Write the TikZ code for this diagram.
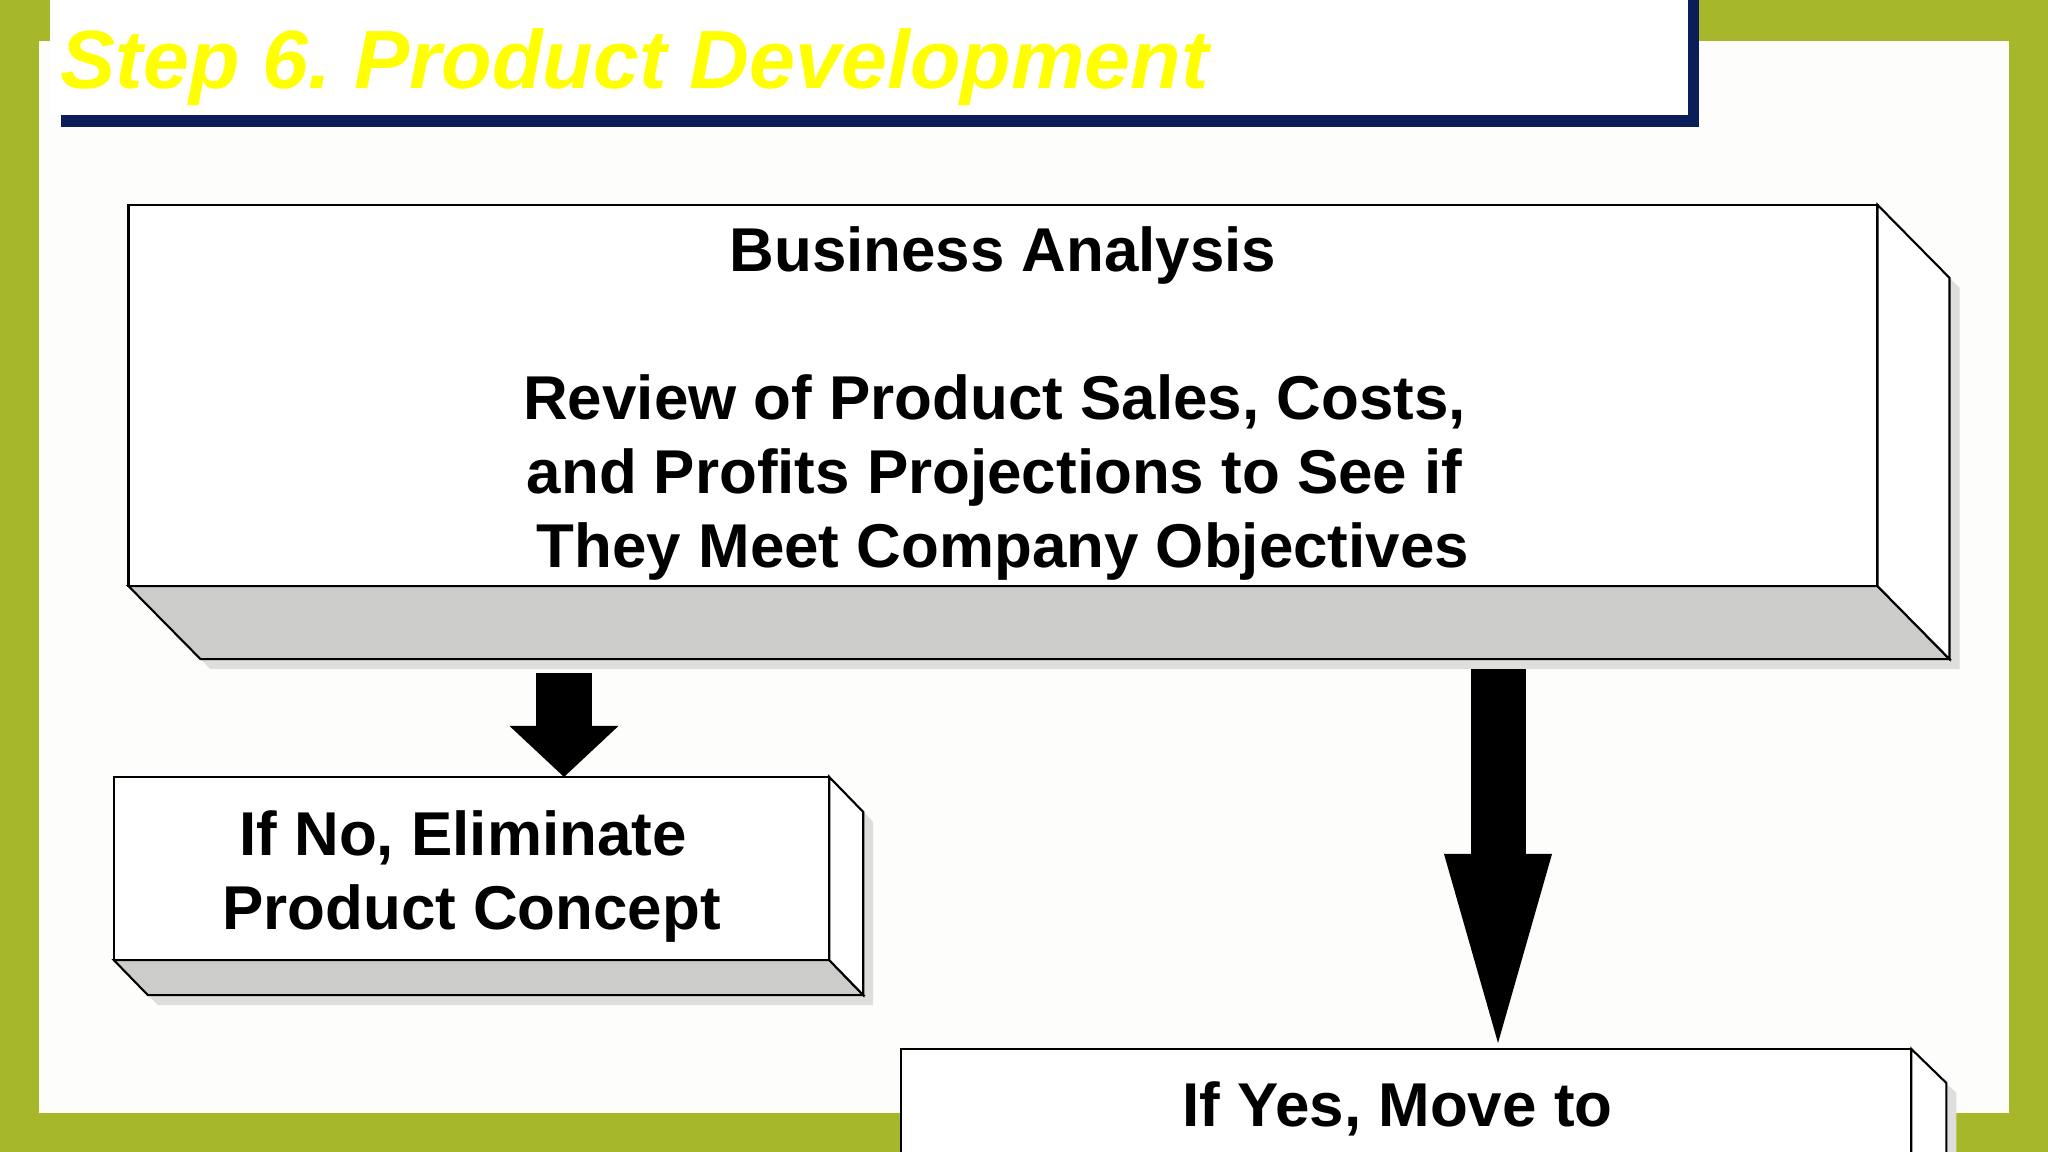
\documentclass[tikz,border=0pt]{standalone}
\usepackage{fontspec}
\setmainfont{Liberation Sans}
\usetikzlibrary{arrows.meta,backgrounds,calc}

\definecolor{framegreen}{RGB}{167,183,42}
\definecolor{titlenavy}{RGB}{12,30,90}
\definecolor{titleyellow}{RGB}{255,255,0}
\definecolor{paper}{RGB}{253,253,251}
\definecolor{facegray}{RGB}{204,204,202}
\definecolor{shadowgray}{RGB}{222,222,220}

\newcommand{\boxfont}{\bfseries\fontsize{17.6pt}{21.1pt}\selectfont}
% centred lines, set a little lower than the middle of the box
\newcommand{\boxlines}[1]{\raisebox{-0.092cm}[\height][\depth]{%
  \begin{tabular}{@{}c@{}}#1\end{tabular}}}

\tikzset{
  frontface/.style={draw, rectangle, fill=white, line width=0.6pt, outer sep=0pt,
    inner sep=0pt, font=\boxfont},
  sideface/.style={draw, line width=0.6pt},
  blockarrow/.style={line width=0.55cm},
}

% side face, bottom face and drop shadow of a box
\newcommand{\boxdepth}[3]{%
  \begin{scope}[on background layer]
    \fill[shadowgray, transform canvas={xshift=0.1cm, yshift=-0.1cm}]
      (#1.north west) -- (#1.north east) -- ++(#2,#3) -- ($(#1.south east)+(#2,#3)$)
      -- ($(#1.south west)+(#2,#3)$) -- (#1.south west) -- cycle;
  \end{scope}
  \filldraw[sideface, fill=facegray] (#1.south west) -- (#1.south east) -- ++(#2,#3)
    -- ($(#1.south west)+(#2,#3)$) -- cycle;
  \filldraw[sideface, fill=white] (#1.north east) -- ++(#2,#3)
    -- ($(#1.south east)+(#2,#3)$) -- (#1.south east) -- cycle;
}

\begin{document}
\begin{tikzpicture}[x=0.01cm, y=-0.01cm]
\useasboundingbox (0,0) rectangle (2048,1152);

% slide frame
\begin{scope}[on background layer]
\fill[framegreen] (0,0) rectangle (2048,1152);
\fill[paper] (39,41) rectangle (2009,1113);
\end{scope}

% title banner
\fill[titlenavy] (61,0) rectangle (1699,127);
\fill[white] (50,0) rectangle (1688,115);
\node[anchor=base west, inner sep=0pt, text=titleyellow,
  font=\bfseries\itshape\fontsize{23.5pt}{28pt}\selectfont] (title) at (60,89)
  {Step 6.\ Product Development};

% boxes
\node[frontface, minimum width=17.48cm, minimum height=3.81cm] (ba) at (1003,395.5)
  {\boxlines{Business Analysis\\[21.1pt]
   Review of Product Sales, Costs,\kern0.17cm\\
   and Profits Projections to See if\kern0.17cm\\
   They Meet Company Objectives}};
\boxdepth{ba}{72}{73}

\node[frontface, minimum width=7.15cm, minimum height=1.83cm] (no) at (471.5,868.5)
  {\boxlines{If No, Eliminate\kern0.17cm\\Product Concept}};
\boxdepth{no}{34}{35}

\node[frontface, minimum width=10.10cm, minimum height=1.83cm,
  text height=0.45cm, text depth=0.72cm] (yes) at (1406,1140.5)
  {If Yes, Move to\kern0.17cm};
\boxdepth{yes}{35}{34}

% arrows
\coordinate (noA) at (564,673);
\draw[blockarrow, -{Triangle[length=0.51cm, width=1.09cm, line width=0pt]}]
  (noA) -- (noA |- no.north);
\coordinate (yesA) at (1498,669);
\draw[blockarrow, shorten >=0.06cm, -{Triangle[length=1.89cm, width=1.08cm, line width=0pt]}]
  (yesA) -- (yesA |- yes.north);
\end{tikzpicture}
\end{document}
